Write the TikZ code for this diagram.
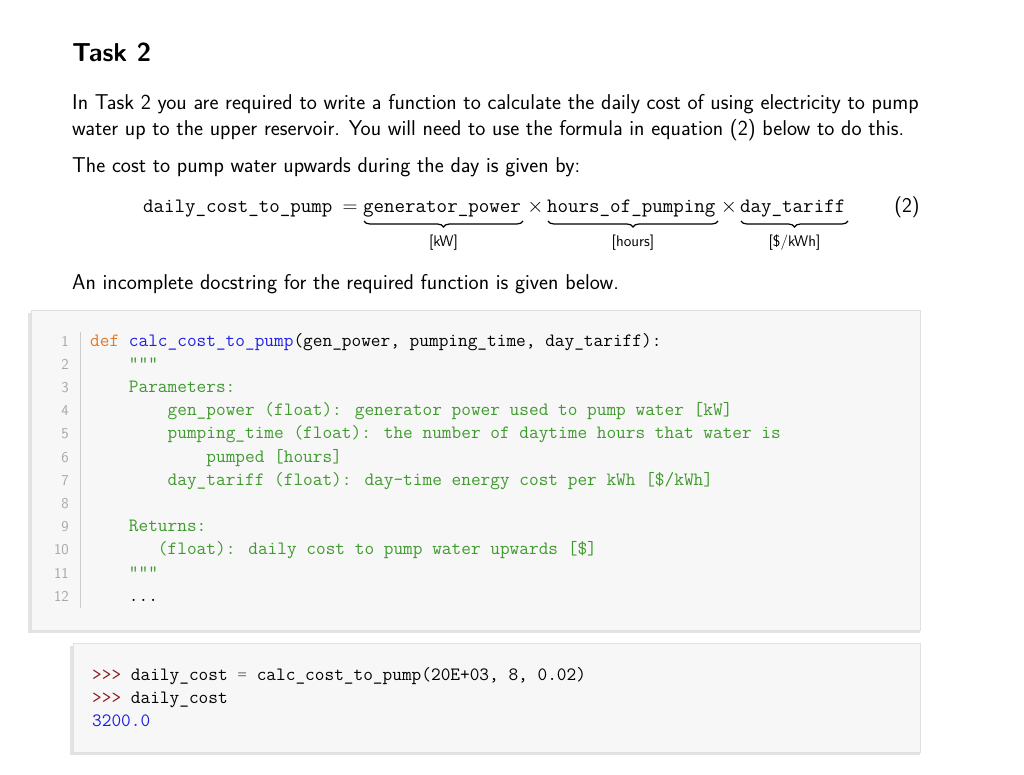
\documentclass[tikz,border=0pt]{standalone}
\usetikzlibrary{decorations.pathreplacing}
\definecolor{cgreen}{HTML}{3F9A2D}
\definecolor{corange}{HTML}{E8781E}
\definecolor{cblue}{HTML}{1F1FE8}
\definecolor{cred}{HTML}{8B1A1A}
\definecolor{cbg}{HTML}{F7F7F7}
\definecolor{cbord}{HTML}{E0E0E0}
\begin{document}
\begin{tikzpicture}[x=1pt,y=-1pt,
  txt/.style={anchor=base west,inner sep=0pt,font=\fontsize{21.45}{26}\sffamily},
  eq/.style={anchor=base west,inner sep=0pt,font=\fontsize{20.4}{24}\ttfamily},
  eqs/.style={anchor=base,inner sep=0pt,font=\fontsize{20}{24}\selectfont},
  code/.style={anchor=base west,inner sep=0pt,font=\fontsize{18.8}{22}\ttfamily},
  lno/.style={anchor=base east,inner sep=0pt,font=\fontsize{15}{16}\sffamily,text=gray!70},
  unit/.style={anchor=base,inner sep=0pt,font=\fontsize{15.4}{16}\sffamily},
  brc/.style={decorate,decoration={brace,mirror,amplitude=6pt},line width=1.2pt},
  box/.style={fill=cbg,draw=cbord},
  shd/.style={fill=gray!22,draw=none}]
\useasboundingbox (0,0) rectangle (1024,775);
\fill[white] (0,0) rectangle (1024,775);
\node[anchor=base west,inner sep=0pt,font=\fontsize{26}{30}\bfseries\sffamily] (title) at (72,62) {Task 2};
\node[txt] (p1) at (72,110) {In Task 2 you are required to write a function to calculate the daily cost of using electricity to pump};
\node[txt] (p2) at (72,136) {water up to the upper reservoir. You will need to use the formula in equation (2) below to do this.};
\node[txt] (p3) at (72,173) {The cost to pump water upwards during the day is given by:};
\node[eq] (e1) at (143,213) {daily\_cost\_to\_pump};
\node[eqs] (eqsign) at (350,213) {$=$};
\node[eq] (e2) at (363,213) {generator\_power};
\node[eqs] (x1) at (535.5,213) {$\times$};
\node[eq] (e3) at (547,213) {hours\_of\_pumping};
\node[eqs] (x2) at (729,213) {$\times$};
\node[eq] (e4) at (740,213) {day\_tariff};
\node[eqs,font=\fontsize{21}{24}\sffamily] (num) at (907,213) {(2)};
\draw[brc] (364,221) -- (523,221);
\draw[brc] (548,221) -- (718,221);
\draw[brc] (741,221) -- (848,221);
\node[unit] (u1) at (443.5,247) {[kW]};
\node[unit] (u2) at (633,247) {[hours]};
\node[unit] (u3) at (794.5,247) {[\$/kWh]};
\node[txt] (p4) at (72,290) {An incomplete docstring for the required function is given below.};
% code block 1
\fill[shd] (28,313) rectangle (920,633);
\draw[box] (31,310) rectangle (920,630);
\draw[gray!40,line width=0.8pt] (80,332) -- (80,608);
\foreach \i in {1,...,12}{
  \node[lno] (ln\i) at (69,{346+(\i-1)*23.2}) {\i};}
\node[code] (c1) at (90,346) {\textcolor{corange}{def} \textcolor{cblue}{calc\_cost\_to\_pump}(gen\_power, pumping\_time, day\_tariff):};
\node[code,text=cgreen] (c2) at (90,369.2) {\ \ \ \ """};
\node[code,text=cgreen] (c3) at (90,392.4) {\ \ \ \ Parameters:};
\node[code,text=cgreen] (c4) at (90,415.6) {\ \ \ \ \ \ \ \ gen\_power (float): generator power used to pump water [kW]};
\node[code,text=cgreen] (c5) at (90,438.8) {\ \ \ \ \ \ \ \ pumping\_time (float): the number of daytime hours that water is};
\node[code,text=cgreen] (c6) at (90,462) {\ \ \ \ \ \ \ \ \ \ \ \ pumped [hours]};
\node[code,text=cgreen] (c7) at (90,485.2) {\ \ \ \ \ \ \ \ day\_tariff (float): day-time energy cost per kWh [\$/kWh]};
\node[code,text=cgreen] (c9) at (90,531.6) {\ \ \ \ Returns:};
\node[code,text=cgreen] (c10) at (90,554.8) {\ \ \ \ \ \ \ (float): daily cost to pump water upwards [\$]};
\node[code,text=cgreen] (c11) at (90,578) {\ \ \ \ """};
\node[code] (c12) at (90,601.2) {\ \ \ \ ...};
% code block 2
\fill[shd] (70,646) rectangle (920,755);
\draw[box] (73,643) rectangle (920,752);
\node[code] (d1) at (92,680) {\textcolor{cred}{>>>} daily\_cost \textcolor{gray}{=} calc\_cost\_to\_pump(20E+03, 8, 0.02)};
\node[code] (d2) at (92,703) {\textcolor{cred}{>>>} daily\_cost};
\node[code,text=cblue] (d3) at (92,726) {3200.0};
\end{tikzpicture}
\end{document}
